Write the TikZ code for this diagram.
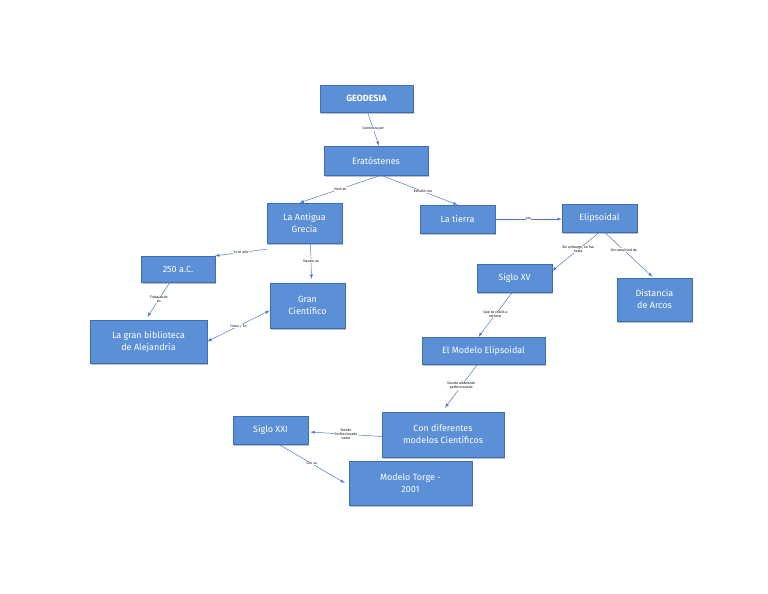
\documentclass[tikz,border=0pt]{standalone}
\usepackage{fontspec}
\setmainfont{Fira Sans}
\usetikzlibrary{shadows}
\definecolor{bx}{HTML}{5B8FD6}
\definecolor{bd}{HTML}{3E6DB5}
\definecolor{ln}{HTML}{4A7BC8}
\begin{document}
\begin{tikzpicture}[x=1pt,y=-1pt,
 box/.style={draw=bd,fill=bx,text=white,font=\fontsize{9}{12}\selectfont,align=center,inner sep=0pt,drop shadow={shadow xshift=1pt,shadow yshift=-1.5pt,opacity=0.5}},
 ar/.style={draw=ln,-latex,line width=0.5pt},
 lb/.style={font=\fontsize{3.5}{4}\selectfont,align=center,fill=white,inner sep=0.3pt}]
\useasboundingbox (0,0) rectangle (768,594);
\newcommand{\bx}[6]{\node[box,minimum width=#4-#2,minimum height=#5-#3] (#1) at ({(#2+#4)/2},{(#3+#5)/2}) {#6};}
\bx{geo}{320}{85}{413}{112}{\textbf{GEODESIA}}
\bx{era}{324}{146}{428}{175}{Eratóstenes}
\bx{gre}{267}{203}{342}{243}{La Antigua\\Grecia}
\bx{tie}{420}{205}{495}{233}{La tierra}
\bx{eli}{562}{204}{637}{232}{Elipsoidal}
\bx{ac}{141}{256}{215}{282}{250 a.C.}
\bx{gc}{270}{283}{345}{328}{Gran\\Científico}
\bx{bib}{90}{320}{207}{363}{La gran biblioteca\\de Alejandría}
\bx{xv}{477}{264}{552}{292}{Siglo XV}
\bx{dis}{617}{278}{692}{321}{Distancia\\de Arcos}
\bx{mod}{422}{337}{545}{364}{El Modelo Elipsoidal}
\bx{con}{382}{412}{504}{457}{Con diferentes\\modelos Científicos}
\bx{xxi}{233}{416}{308}{444}{Siglo XXI}
\bx{tor}{349}{461}{472}{505}{Modelo Torge -\\2001}
\draw[ar] ([xshift=1pt]geo.south) -- node[lb]{Comienza por} ([xshift=3pt]era.north);
\draw[ar] ([xshift=5pt]era.south) -- node[lb,pos=0.5]{Vivió en} ([xshift=-5pt]gre.north);
\draw[ar] ([xshift=5pt]era.south) -- node[lb,pos=0.55]{Estudió con} ([xshift=0pt]tie.north);
\draw[ar] ([yshift=-6pt]gre.south west) -- node[lb]{En el año} (ac.north east);
\draw[ar] ([xshift=6pt]gre.south) -- node[lb]{Siendo un} ([xshift=4pt,yshift=4pt]gc.north);
\draw[ar] ([xshift=-8pt]ac.south) -- node[lb]{Trabajando\\en} ([xshift=-1pt,yshift=3pt]bib.north);
\draw[ar,latex-latex] ([yshift=-5pt]gc.west) -- node[lb]{Como / En} (bib.east);
\draw[ar] (tie.east) -- node[lb]{era} ([yshift=-1pt]eli.west);
\draw[ar] ([xshift=0pt]eli.south) -- node[lb,pos=0.45]{Sin embargo, no fue\\hasta} ([yshift=-7pt]xv.north east);
\draw[ar] ([xshift=5pt]eli.south) -- node[lb,pos=0.4]{Con amplitud de} ([xshift=-2pt,yshift=1pt]dis.north);
\draw[ar] ([xshift=-2pt]xv.south) -- node[lb]{Que se volvió a\\retomar} ([xshift=-5pt]mod.north);
\draw[ar] ([xshift=-6pt]mod.south) -- node[lb]{Siendo altamente\\perfeccionado} ([xshift=2pt,yshift=4pt]con.north);
\draw[ar] ([yshift=-2pt]con.west) -- node[lb]{Siendo\\Perfeccionado\\hasta} ([xshift=2pt,yshift=-2pt]xxi.east);
\draw[ar] ([xshift=8pt]xxi.south) -- node[lb]{Con su} ([xshift=-4pt]tor.west);
\end{tikzpicture}
\end{document}
